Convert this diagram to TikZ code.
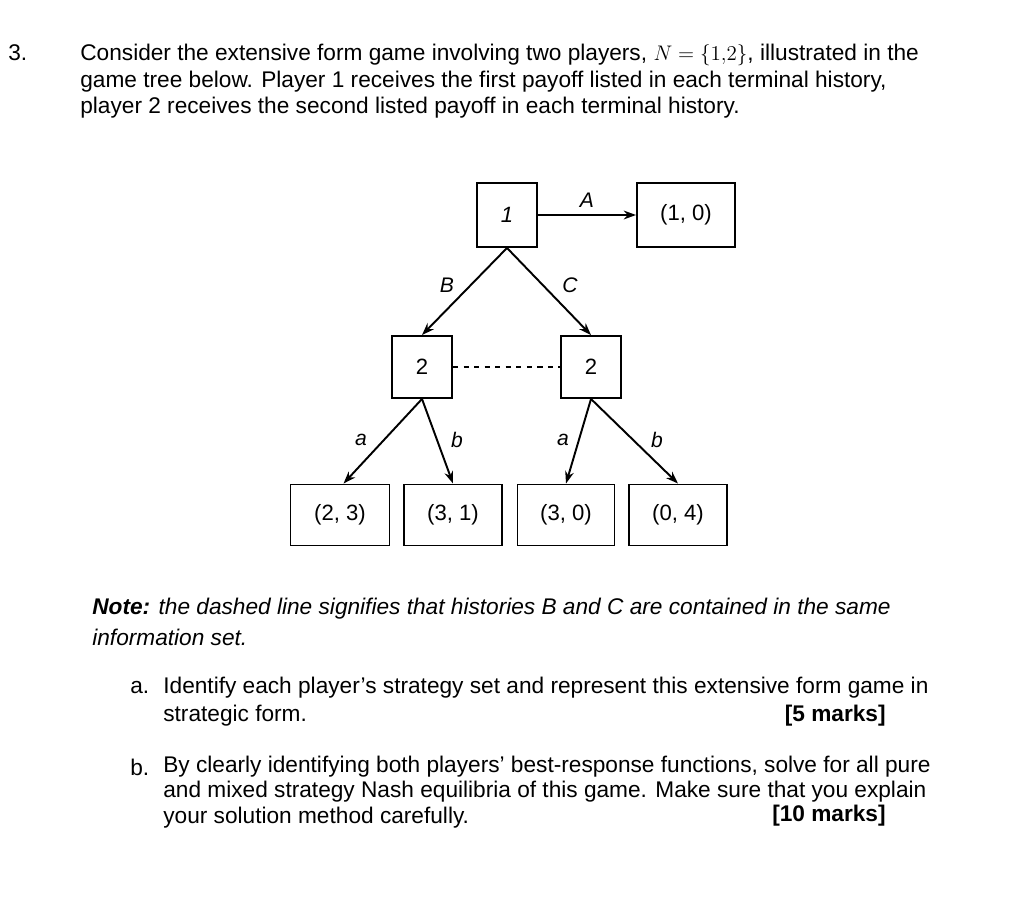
\documentclass[tikz,border=0pt]{standalone}
\usepackage{fontspec}
\setmainfont{Liberation Sans}
\usetikzlibrary{arrows.meta}
\begin{document}
\begin{tikzpicture}[x=0.02cm,y=-0.02cm,
  txt/.style={anchor=west,inner sep=0pt,font=\fontsize{12.9pt}{14pt}\selectfont},
  rtxt/.style={anchor=east,inner sep=0pt,font=\fontsize{12.9pt}{14pt}\selectfont\bfseries},
  box/.style={draw,line width=1.1pt,minimum height=1.22cm,inner sep=0pt,font=\fontsize{12.6pt}{14pt}\selectfont},
  lab/.style={font=\fontsize{12pt}{14pt}\selectfont\itshape,inner sep=0pt},
  arr/.style={-{Stealth[length=7pt,width=5pt]},line width=1.1pt}]
\useasboundingbox (0,0) rectangle (1024,902);
\node[txt] (n3) at (8,53) {3.};
\node[txt] (l1) at (80,55) {Consider the extensive form game involving two players, $N=\{1{,}2\}$, illustrated in the};
\node[txt] (l2) at (80,82) {game tree below. Player 1 receives the first payoff listed in each terminal history,};
\node[txt] (l3) at (80,108) {player 2 receives the second listed payoff in each terminal history.};
% tree
\node[box,minimum width=1.2cm,minimum height=1.28cm] (r) at (507,215) {\itshape 1};
\node[box,minimum width=1.96cm,minimum height=1.28cm] (t0) at (686,215) {(1, 0)};
\node[box,minimum width=1.2cm,minimum height=1.24cm] (l) at (422,367) {2};
\node[box,minimum width=1.2cm,minimum height=1.24cm] (rr) at (591,367) {2};
\node[box,minimum width=1.98cm] (t1) at (340,515) {(2, 3)};
\node[box,minimum width=1.96cm] (t2) at (453,515) {(3, 1)};
\node[box,minimum width=1.94cm] (t3) at (566,515) {(3, 0)};
\node[box,minimum width=1.96cm] (t4) at (678,515) {(0, 4)};
\draw[arr] (r.east) -- (t0.west);
\draw[arr] (r.south) -- (l.north);
\draw[arr] (r.south) -- (rr.north);
\draw[dashed,line width=1.1pt] (l.east) -- (rr.west);
\draw[arr] (l.south) -- ([xshift=2pt]t1.north);
\draw[arr] (l.south) -- (t2.north);
\draw[arr] (rr.south) -- (t3.north);
\draw[arr] (rr.south) -- (t4.north);
\node[lab] (la) at (587,200) {A};
\node[lab] (lb) at (447,285) {B};
\node[lab] (lc) at (570,285) {C};
\node[lab] (a1) at (361,440) {a};
\node[lab] (b1) at (457,440) {b};
\node[lab] (a2) at (563,440) {a};
\node[lab] (b2) at (657,440) {b};
% note
\node[txt] (nt1) at (92,609) {\itshape\textbf{Note:} the dashed line signifies that histories B and C are contained in the same};
\node[txt] (nt2) at (92,637) {\itshape information set.};
\node[txt] (qa) at (130,688) {a.};
\node[txt] (qa1) at (163,688) {Identify each player's strategy set and represent this extensive form game in};
\node[txt] (qa2) at (163,716) {strategic form.};
\node[rtxt] (ma) at (886,716) {[5 marks]};
\node[txt] (qb) at (130,767) {b.};
\node[txt] (qb1) at (163,767) {By clearly identifying both players' best-response functions, solve for all pure};
\node[txt] (qb2) at (163,792) {and mixed strategy Nash equilibria of this game. Make sure that you explain};
\node[txt] (qb3) at (163,818) {your solution method carefully.};
\node[rtxt] (mb) at (886,816) {[10 marks]};
\end{tikzpicture}
\end{document}
